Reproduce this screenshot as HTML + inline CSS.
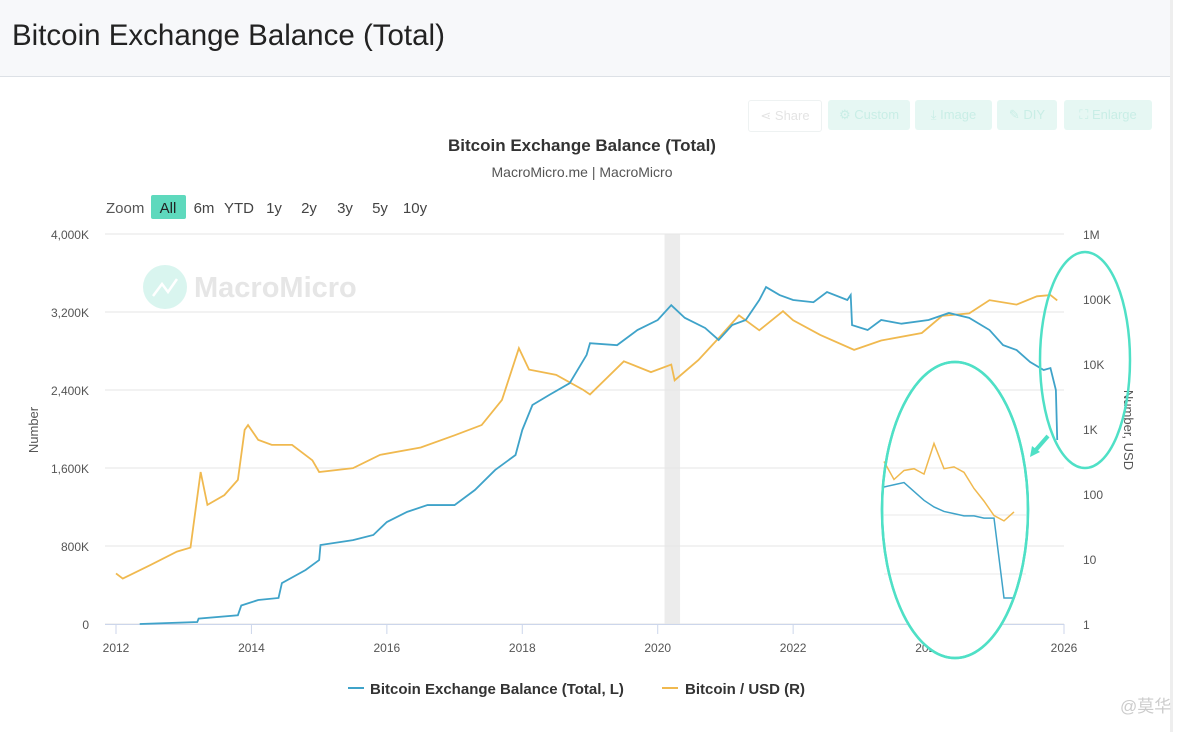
<!DOCTYPE html>
<html><head><meta charset="utf-8"><style>
body{margin:0;width:1199px;height:732px;background:#fff;font-family:"Liberation Sans","Noto Sans CJK SC",sans-serif;overflow:hidden;position:relative}
#hdr{position:absolute;left:0;top:0;width:1170px;height:76px;background:#f7f8fa;border-bottom:1px solid #dde1e6}
#hdr h1{margin:0;position:absolute;left:12px;top:19px;font-weight:normal;font-size:29.5px;color:#222}
.btn{position:absolute;top:100px;height:30px;border-radius:3px;background:#e6f7f3;color:#c9eee6;font-size:13px;line-height:30px;text-align:center}
#rb{position:absolute;left:1170px;top:0;width:3px;height:732px;background:#eee}
</style></head><body>
<div id="hdr"><h1>Bitcoin Exchange Balance (Total)</h1></div>
<div id="rb"></div>
<div class="btn" style="left:748px;width:72px;background:#fff;border:1px solid #eef2f2;color:#e4e4e4">⋖ Share</div>
<div class="btn" style="left:828px;width:82px">⚙ Custom</div>
<div class="btn" style="left:915px;width:77px">⤓ Image</div>
<div class="btn" style="left:997px;width:60px">✎ DIY</div>
<div class="btn" style="left:1064px;width:88px">⛶ Enlarge</div>
<svg id="c" width="1199" height="732" style="position:absolute;left:0;top:0"></svg>
<script>
const years=[2012,2014,2016,2018,2020,2022,2024,2026];
const leftTicks=[0,800,1600,2400,3200,4000];
const rightTicks=[1,10,100,1000,10000,100000,1000000];
const rightLabels=['1','10','100','1K','10K','100K','1M'];
const balDates=[2012.35,2013.2,2013.22,2013.8,2013.85,2014.1,2014.4,2014.45,2014.8,2015.0,2015.02,2015.5,2015.8,2016.0,2016.3,2016.6,2017.0,2017.3,2017.6,2017.9,2018.0,2018.15,2018.4,2018.7,2018.95,2019.0,2019.4,2019.7,2020.0,2020.2,2020.4,2020.7,2020.9,2021.1,2021.3,2021.5,2021.6,2021.8,2022.0,2022.3,2022.5,2022.8,2022.85,2022.87,2023.1,2023.3,2023.6,2024.0,2024.3,2024.6,2024.9,2025.1,2025.3,2025.5,2025.7,2025.8,2025.88,2025.9];
const balValues=[0,20,55,90,190,246,267,420,554,656,810,860,913,1046,1150,1220,1220,1374,1580,1733,1990,2246,2350,2470,2760,2880,2860,3015,3118,3270,3140,3036,2913,3066,3118,3323,3456,3374,3323,3300,3405,3323,3374,3066,3015,3118,3080,3118,3190,3140,3015,2861,2810,2687,2605,2625,2400,1887];
const pxDates=[2012.0,2012.1,2012.5,2012.9,2013.1,2013.25,2013.35,2013.6,2013.8,2013.9,2013.95,2014.1,2014.3,2014.6,2014.9,2015.0,2015.5,2015.9,2016.5,2017.0,2017.4,2017.7,2017.95,2018.1,2018.5,2018.9,2019.0,2019.5,2019.9,2020.2,2020.25,2020.6,2020.9,2021.2,2021.5,2021.85,2022.0,2022.4,2022.9,2023.3,2023.9,2024.2,2024.6,2024.9,2025.3,2025.6,2025.8,2025.9];
const pxValues=[6,5,8,13,15,218,68,96,165,970,1150,680,570,570,330,218,250,400,520,800,1150,2800,17500,8200,6800,4000,3400,11000,7500,9800,5600,11500,25000,56000,33000,65000,47000,28000,16500,23000,30000,55000,60000,96000,82000,110000,115000,95000];
const insetIdx=[0,1,2,3,4,5,6,7,8,9,10,11,12,13];
const insetPx=[110,90,100,102,96,130,102,104,98,80,66,50,44,54];
const insetBal=[60,61,62,58,54,51,49,48,47,47,46,46,10,10];
const NS='http://www.w3.org/2000/svg';
const svg=document.getElementById('c');
function mk(t,a,p){const e=document.createElementNS(NS,t);for(const k in a)e.setAttribute(k,a[k]);(p||svg).appendChild(e);return e;}
const X=y=>116+(y-2012)/14*948;
const YL=v=>624-v/4000*390;
const YR=v=>624-Math.log10(v)*65;
const F='Liberation Sans, sans-serif';
let b=mk('rect',{x:X(2020.1),y:234,width:X(2020.33)-X(2020.1),height:390,fill:'#ececec'});

leftTicks.forEach(v=>{let l=mk('line',{x1:105,x2:1064,y1:YL(v),y2:YL(v),stroke:'#e6e6e6'});
let t=mk('text',{x:89,y:YL(v)+5,'text-anchor':'end','font-size':12,fill:'#555','font-family':F});t.textContent=v===0?'0':v.toLocaleString('en-US')+'K';});
rightTicks.forEach((v,i)=>{let t=mk('text',{x:1083,y:YR(v)+5,'font-size':12,fill:'#555','font-family':F});t.textContent=rightLabels[i];});
mk('line',{x1:105,x2:1064,y1:624.5,y2:624.5,stroke:'#ccd6eb'});
years.forEach(y=>{mk('line',{x1:X(y),x2:X(y),y1:624,y2:634,stroke:'#ccd6eb'});let t=mk('text',{x:X(y),y:652,'text-anchor':'middle','font-size':12,fill:'#555','font-family':F});t.textContent=y;});
let yt=mk('text',{x:0,y:0,transform:'translate(38,430) rotate(-90)','text-anchor':'middle','font-size':13,fill:'#555','font-family':F});yt.textContent='Number';
let yt2=mk('text',{x:0,y:0,transform:'translate(1124,430) rotate(90)','text-anchor':'middle','font-size':13,fill:'#555','font-family':F});yt2.textContent='Number, USD';
let wm=mk('circle',{cx:165,cy:287,r:22,fill:'#d9f5ef'});
mk('polyline',{points:'153,296 162,284 168,292 177,279',fill:'none',stroke:'#fff','stroke-width':2.5});
let wt=mk('text',{x:194,y:297,'font-size':29,fill:'#e6e6e6','font-family':F,'font-weight':'bold'});wt.textContent='MacroMicro';
let ti=mk('text',{x:582,y:151,'text-anchor':'middle','font-size':17,'font-weight':'bold',fill:'#333','font-family':F});ti.textContent='Bitcoin Exchange Balance (Total)';
let st=mk('text',{x:582,y:177,'text-anchor':'middle','font-size':14,fill:'#555','font-family':F});st.textContent='MacroMicro.me | MacroMicro';
let zl=mk('text',{x:106,y:213,'font-size':15,fill:'#555','font-family':F});zl.textContent='Zoom';
let za=mk('rect',{x:151,y:195,width:35,height:24,rx:2,fill:'#5ed9bd'});
[['All',168],['6m',204],['YTD',239],['1y',274],['2y',309],['3y',345],['5y',380],['10y',415]].forEach(([s,x])=>{let t=mk('text',{x:x,y:213,'text-anchor':'middle','font-size':15,fill:s==='All'?'#222':'#444','font-family':F});t.textContent=s;});
let pp=mk('polyline',{points:pxDates.map((d,i)=>X(d)+','+YR(pxValues[i])).join(' '),fill:'none',stroke:'#f0b94f','stroke-width':1.8});
let bp=mk('polyline',{points:balDates.map((d,i)=>X(d)+','+YL(balValues[i])).join(' '),fill:'none',stroke:'#3fa3c9','stroke-width':1.8});
let ie=mk('ellipse',{cx:955,cy:510,rx:73,ry:148,fill:'#fff',stroke:'#4fe0c6','stroke-width':2.5});
[468,515,546,574].forEach(y=>mk('line',{x1:884,x2:1026,y1:y,y2:y,stroke:'#e8e8e8'}));
const IX=i=>884+i*10, IY=v=>520-(v-45)*0.9, IB=v=>598-(v-10)*2.22;
let ip=mk('polyline',{points:insetIdx.map(i=>IX(i)+','+IY(insetPx[i])).join(' '),fill:'none',stroke:'#f0b94f','stroke-width':1.5});
let ib=mk('polyline',{points:insetIdx.map(i=>IX(i)+','+IB(insetBal[i])).join(' '),fill:'none',stroke:'#3fa3c9','stroke-width':1.5});
mk('ellipse',{cx:955,cy:510,rx:73,ry:148,fill:'none',stroke:'#4fe0c6','stroke-width':2.5});
let oe=mk('ellipse',{cx:1085,cy:360,rx:45,ry:108,fill:'none',stroke:'#4fe0c6','stroke-width':2.5});
let ar=mk('line',{x1:1048,y1:436,x2:1034,y2:452,stroke:'#4fe0c6','stroke-width':4});
mk('polygon',{points:'1030,457 1032,446 1040,452',fill:'#4fe0c6'});
mk('line',{x1:348,x2:364,y1:688,y2:688,stroke:'#3fa3c9','stroke-width':2});
let l1=mk('text',{x:370,y:694,'font-size':15,'font-weight':'bold',fill:'#333','font-family':F});l1.textContent='Bitcoin Exchange Balance (Total, L)';
mk('line',{x1:662,x2:678,y1:688,y2:688,stroke:'#f0b94f','stroke-width':2});
let l2=mk('text',{x:685,y:694,'font-size':15,'font-weight':'bold',fill:'#333','font-family':F});l2.textContent='Bitcoin / USD (R)';
let wm2=mk('text',{x:1120,y:712,'font-size':17,fill:'#ccc','font-family':'Liberation Sans, Noto Sans CJK SC, sans-serif'});wm2.textContent='@莫华';
</script>
</body></html>
